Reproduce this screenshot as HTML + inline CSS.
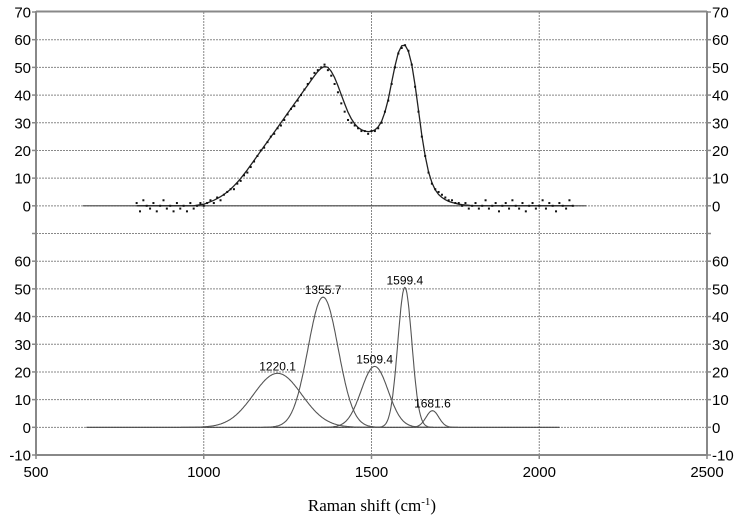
<!DOCTYPE html>
<html><head><meta charset="utf-8"><style>
html,body{margin:0;padding:0;background:#fff;}
svg{display:block;}
text{font-family:"Liberation Sans",Arial,sans-serif;}
</style></head><body>
<svg id="chart" width="752" height="525" viewBox="0 0 752 525">
<g id="grid"></g>
<g id="axes"></g>
<g id="top"></g>
<g id="bottom"></g>
<text x="372" y="511" text-anchor="middle" style="font-family:'Liberation Serif',serif;font-size:17px">Raman shift (cm<tspan dy="-6" font-size="11">-1</tspan><tspan dy="6">)</tspan></text>
</svg>
<script>
const xTicks = [500, 1000, 1500, 2000, 2500];
const yLabels = ["70","60","50","40","30","20","10","0","","60","50","40","30","20","10","0","-10"];
const peakCenters = [1220.1, 1355.7, 1509.4, 1599.4, 1681.6];
const peakAmps = [19.5, 47, 22, 50.5, 6];
const peakSigmas = [72, 45, 40, 21, 19];
const obsStart = 800, obsStep = 10;
const obsValues = [1,-2,2,0,-1,1,-2,0,2,-1,0,-2,1,-1,0,-2,1,-1,0,1,
0,1,2,1,3,2,4,5,6,6,8,9,11,12,14,16,18,20,21,23,
25,26,28,29,31,33,35,36,38,40,42,44,46,48,49,50,51,49,47,44,
41,37,34,31,30,29,28,27,27,26,27,27,28,30,34,38,44,50,55,57,
58,56,51,43,34,25,18,12,8,6,5,4,3,2,2,1,1,0,1,-1,
0,1,-1,0,2,-1,0,1,-2,0,1,-1,2,0,-1,1,-2,0,1,-1,
0,2,-1,1,0,-2,1,0,-1,2,0];
const fitValues = [0,0,0,0,0,0,0,0,0,0,0,0,0,0,0,0,0,0,0.2,0.4,
0.6,1,1.5,2,2.6,3.3,4.1,5,6,7.2,8.5,9.9,11.4,13,14.7,16.4,18.1,19.8,21.5,23.2,
24.9,26.6,28.3,30,31.7,33.4,35.1,36.8,38.5,40.2,41.9,43.6,45.3,47,48.5,49.7,50.3,50,48.6,46.3,
43.4,40.1,36.8,33.8,31.4,29.6,28.3,27.5,27,26.8,26.9,27.4,28.5,30.5,33.8,38.5,44.5,50.5,55.3,57.8,
58,55.8,51,43.5,34.5,25.5,18,12.3,8.4,5.8,4.1,3,2.2,1.6,1.2,0.9,0.6,0.4,0.3,0.2,
0,0,0,0,0,0,0,0,0,0,0,0,0,0,0,0,0,0,0,0,
0,0,0,0,0,0,0,0,0,0,0];

const NS='http://www.w3.org/2000/svg';
const X0=36, X1=707, Y0=12, YB=455;
const ystep=(YB-Y0)/16;
const xs=v=>X0+(v-500)*(X1-X0)/2000;
const yTop=v=>Y0+7*ystep - v*ystep/10;
const yBot=v=>Y0+15*ystep - v*ystep/10;
function mk(tag,attrs,parent){const e=document.createElementNS(NS,tag);for(const k in attrs)e.setAttribute(k,attrs[k]);parent.appendChild(e);return e;}
const grid=document.getElementById('grid'), axes=document.getElementById('axes');
const topG=document.getElementById('top'), botG=document.getElementById('bottom');

yLabels.forEach((lab,i)=>{
  const y=Y0+i*ystep;
  if(i>0&&i<16){
    const l=mk('line',{x1:X0,x2:X1,y1:y,y2:y,stroke:'#888','stroke-width':1,'stroke-dasharray':'2,1'},grid);
    
    
  }
  mk('line',{x1:X0-4,x2:X0,y1:y,y2:y,stroke:'#888','stroke-width':1.5},axes);
  mk('line',{x1:X1,x2:X1+4,y1:y,y2:y,stroke:'#888','stroke-width':1.5},axes);
  if(lab!==''){
    const t=mk('text',{x:X0-5,y:y+5.5,'text-anchor':'end','font-size':15},axes);
    t.textContent=lab;
    
    
    const t2=mk('text',{x:X1+5,y:y+5.5,'text-anchor':'start','font-size':15},axes);
    t2.textContent=lab;
    
    
  }
});
xTicks.forEach(v=>{
  const x=xs(v);
  if(v>500&&v<2500){
    const l=mk('line',{x1:x,x2:x,y1:Y0,y2:YB,stroke:'#888','stroke-width':1,'stroke-dasharray':'2,1'},grid);
    
    
  }
  mk('line',{x1:x,x2:x,y1:YB,y2:YB+4,stroke:'#888','stroke-width':1.5},axes);
  const t=mk('text',{x:x,y:YB+22,'text-anchor':'middle','font-size':15},axes);
  t.textContent=v;
  
  
});
const fr=mk('path',{d:`M${X0},${Y0-1}L${X0},${YB}L${X1},${YB}L${X1},${Y0-1}M${X0},${Y0-0.5}L${X1},${Y0-0.5}`,fill:'none',stroke:'#888','stroke-width':2},axes);



const bl=mk('line',{x1:xs(640),x2:xs(2140),y1:yTop(0),y2:yTop(0),stroke:'#444','stroke-width':1.2},topG);


let pts=[];
fitValues.forEach((v,i)=>pts.push(xs(obsStart+i*obsStep).toFixed(1)+','+yTop(v).toFixed(1)));
const pl=mk('polyline',{points:pts.join(' '),fill:'none',stroke:'#222','stroke-width':1.3,'stroke-linejoin':'round'},topG);


obsValues.forEach((v,i)=>{
  const c=mk('rect',{x:xs(obsStart+i*obsStep)-1,y:yTop(v)-1,width:2,height:2,fill:'#111'},topG);
  
  
});

const bl2=mk('line',{x1:xs(650),x2:xs(2060),y1:yBot(0),y2:yBot(0),stroke:'#444','stroke-width':1.2},botG);


peakCenters.forEach((c,i)=>{
  const a=peakAmps[i], s=peakSigmas[i];
  let p=[];
  for(let v=c-4*s; v<=c+4*s; v+=2){
    const g=a*Math.exp(-0.5*((v-c)/s)**2);
    p.push(xs(v).toFixed(1)+','+yBot(g).toFixed(1));
  }
  const pk=mk('polyline',{points:p.join(' '),fill:'none',stroke:'#555','stroke-width':1.1},botG);
  
  
  const t=mk('text',{x:xs(c),y:yBot(a)-3,'text-anchor':'middle','font-size':12},botG);
  t.textContent=c.toFixed(1);
  
  
});
</script>
</body></html>
